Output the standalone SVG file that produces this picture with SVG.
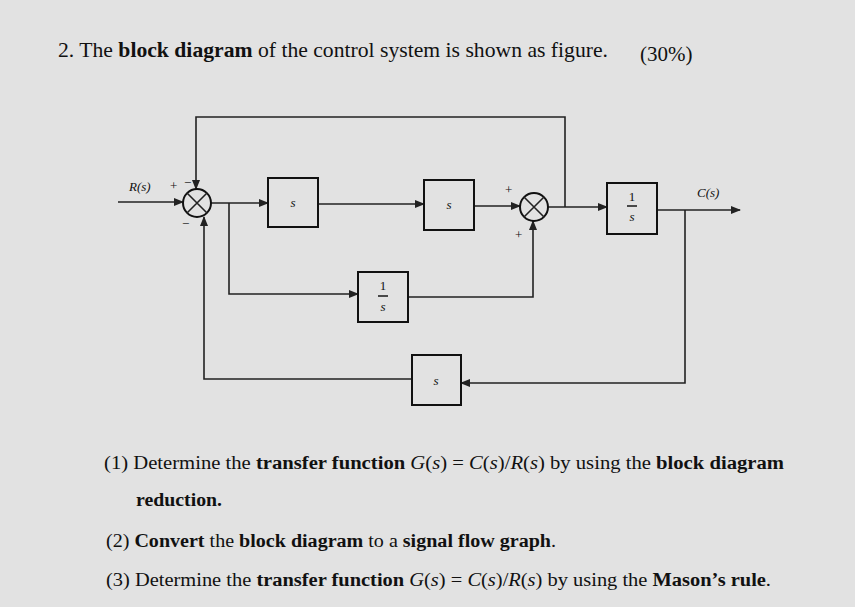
<svg xmlns="http://www.w3.org/2000/svg" width="855" height="607" viewBox="0 0 855 607">
<defs><marker id="a" markerWidth="10" markerHeight="8" refX="9" refY="4" orient="auto" markerUnits="userSpaceOnUse"><path d="M0,0 L10,4 L0,8 Z" fill="#222"/></marker></defs>
<style>
.l{fill:none;stroke:#222;stroke-width:1.6}
.b{fill:none;stroke:#111;stroke-width:2}
.t{font-family:"Liberation Serif",serif;fill:#111}
.i{font-family:"Liberation Serif",serif;font-style:italic;fill:#111;font-size:13px}
</style>
<rect width="855" height="607" fill="#e2e2e2"/>
<text class="t" x="58" y="57" font-size="21" textLength="550" lengthAdjust="spacingAndGlyphs">2. The <tspan font-weight="bold">block diagram</tspan> of the control system is shown as figure.</text>
<text class="t" x="640" y="61" font-size="21">(30%)</text>
<g id="conn">
<path class="l" d="M118,202 H183" marker-end="url(#a)"/>
<path class="l" d="M211,203 H268" marker-end="url(#a)"/>
<path class="l" d="M318,204 H424" marker-end="url(#a)"/>
<path class="l" d="M474,206 H520" marker-end="url(#a)"/>
<path class="l" d="M548,207 H607" marker-end="url(#a)"/>
<path class="l" d="M657,210 H740" marker-end="url(#a)"/>
<path class="l" d="M565,207 V117 H196 V189" marker-end="url(#a)"/>
<path class="l" d="M229,203 V294 H358" marker-end="url(#a)"/>
<path class="l" d="M408,297 H533 V221" marker-end="url(#a)"/>
<path class="l" d="M685,210 V383 H461" marker-end="url(#a)"/>
<path class="l" d="M412,379 H204 V217" marker-end="url(#a)"/>
</g>
<g id="sum1"><circle class="b" cx="197" cy="203" r="14"/><path class="l" d="M187,193 L207,213 M207,193 L187,213"/></g>
<g id="sum2"><circle class="b" cx="534" cy="207" r="14"/><path class="l" d="M524,197 L544,217 M544,197 L524,217"/></g>
<g id="b1"><rect class="b" x="268" y="178" width="50" height="49"/><text class="i" x="293" y="207" text-anchor="middle">s</text></g>
<g id="b2"><rect class="b" x="424" y="180" width="50" height="50"/><text class="i" x="449" y="209" text-anchor="middle">s</text></g>
<g id="b3"><rect class="b" x="607" y="183" width="50" height="51"/><text class="t" x="632" y="201" font-size="13" text-anchor="middle">1</text><path class="l" d="M627,206 H637" stroke-width="1"/><text class="i" x="632" y="221" text-anchor="middle">s</text></g>
<g id="b4"><rect class="b" x="358" y="272" width="50" height="50"/><text class="t" x="383" y="290" font-size="13" text-anchor="middle">1</text><path class="l" d="M378,296 H388" stroke-width="1"/><text class="i" x="383" y="311" text-anchor="middle">s</text></g>
<g id="b5"><rect class="b" x="412" y="355" width="49" height="50"/><text class="i" x="436" y="385" text-anchor="middle">s</text></g>
<g id="labels">
<text class="i" x="129" y="191" font-size="15">R(s)</text>
<text class="t" x="170" y="190" font-size="13">+</text>
<text class="t" x="184" y="187" font-size="13">−</text>
<text class="t" x="182" y="228" font-size="13">−</text>
<text class="t" x="505" y="194" font-size="13">+</text>
<text class="t" x="515" y="239" font-size="13">+</text>
<text class="i" x="697" y="197" font-size="15">C(s)</text>
</g>
<g class="t" font-size="18">
<text x="104" y="469" textLength="680" lengthAdjust="spacingAndGlyphs">(1) Determine the <tspan font-weight="bold">transfer function</tspan> <tspan font-style="italic">G</tspan>(<tspan font-style="italic">s</tspan>) = <tspan font-style="italic">C</tspan>(<tspan font-style="italic">s</tspan>)/<tspan font-style="italic">R</tspan>(<tspan font-style="italic">s</tspan>) by using the <tspan font-weight="bold">block diagram</tspan></text>
<text x="136" y="506" font-weight="bold" textLength="86" lengthAdjust="spacingAndGlyphs">reduction.</text>
<text x="106" y="547" textLength="450" lengthAdjust="spacingAndGlyphs">(2) <tspan font-weight="bold">Convert</tspan> the <tspan font-weight="bold">block diagram</tspan> to a <tspan font-weight="bold">signal flow graph</tspan>.</text>
<text x="106" y="586" textLength="665" lengthAdjust="spacingAndGlyphs">(3) Determine the <tspan font-weight="bold">transfer function</tspan> <tspan font-style="italic">G</tspan>(<tspan font-style="italic">s</tspan>) = <tspan font-style="italic">C</tspan>(<tspan font-style="italic">s</tspan>)/<tspan font-style="italic">R</tspan>(<tspan font-style="italic">s</tspan>) by using the <tspan font-weight="bold">Mason’s rule</tspan>.</text>
</g>
</svg>
